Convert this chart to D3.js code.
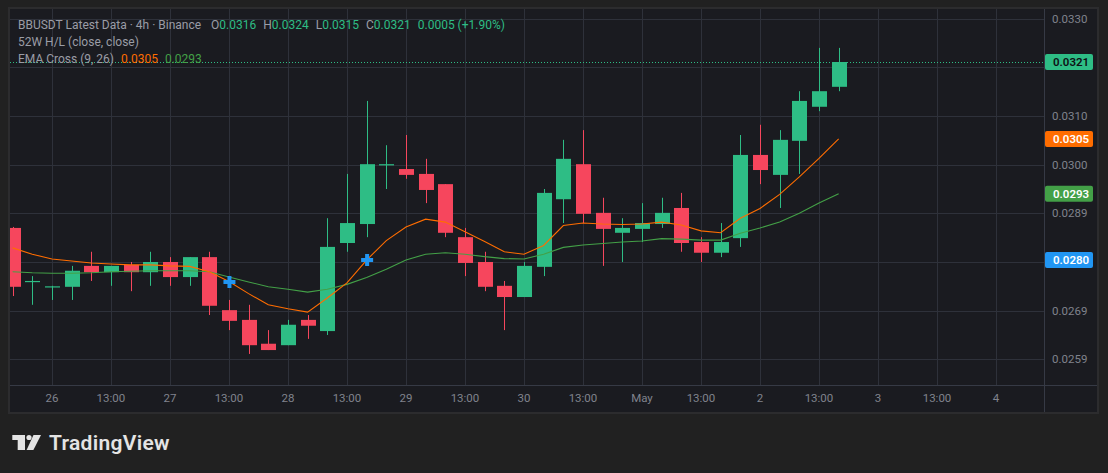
<!DOCTYPE html>
<html>
<head>
<meta charset="utf-8">
<script src="https://cdn.jsdelivr.net/npm/d3@7"></script>
<style>
  body { margin: 0; background: #212121; }
  svg { display: block; }
</style>
</head>
<body>
<div id="chart"></div>
<script>
// BBUSDT 4h candles (43 bars, first one clipped at the left edge)
const opens = [0.02870,0.02760,0.02749,0.02749,0.02792,0.02779,0.02794,0.02779,0.02800,0.02769,
  0.02810,0.02701,0.02681,0.02632,0.02629,0.02681,0.02658,0.02839,0.02878,0.03000,
  0.02991,0.02981,0.02960,0.02851,0.02800,0.02751,0.02728,0.02790,0.02929,0.03001,
  0.02901,0.02860,0.02868,0.02878,0.02911,0.02841,0.02819,0.02849,0.03020,0.02979,
  0.03049,0.03119,0.03160];
const highs = [0.02872,0.02771,0.02751,0.02792,0.02821,0.02792,0.02800,0.02821,0.02810,0.02810,
  0.02821,0.02722,0.02712,0.02660,0.02681,0.02691,0.02890,0.02981,0.03131,0.03040,
  0.03061,0.03012,0.02960,0.02870,0.02821,0.02761,0.02800,0.02950,0.03051,0.03071,
  0.02932,0.02890,0.02921,0.02932,0.02942,0.02851,0.02880,0.03061,0.03082,0.03071,
  0.03151,0.03240,0.03240];
const lows = [0.02730,0.02712,0.02722,0.02722,0.02761,0.02751,0.02740,0.02751,0.02751,0.02751,
  0.02691,0.02660,0.02611,0.02619,0.02629,0.02642,0.02650,0.02821,0.02851,0.02950,
  0.02971,0.02921,0.02851,0.02771,0.02740,0.02660,0.02728,0.02771,0.02880,0.02880,
  0.02792,0.02800,0.02841,0.02870,0.02821,0.02800,0.02810,0.02831,0.02960,0.02911,
  0.02981,0.03110,0.03151];
const closes = [0.02749,0.02761,0.02750,0.02782,0.02779,0.02792,0.02779,0.02800,0.02769,0.02810,
  0.02710,0.02679,0.02629,0.02619,0.02671,0.02669,0.02831,0.02880,0.03001,0.03001,
  0.02979,0.02948,0.02860,0.02798,0.02749,0.02728,0.02792,0.02942,0.03012,0.02899,
  0.02868,0.02870,0.02880,0.02901,0.02839,0.02819,0.02841,0.03020,0.02989,0.03051,
  0.03131,0.03151,0.03211];

// EMA Cross (9, 26) lines as drawn
const emaFast = [0.02829,0.02816,0.02806,0.02802,0.02798,0.02796,0.02794,0.02794,0.02792,0.02791,
  0.02780,0.02760,0.02735,0.02712,0.02704,0.02697,0.02726,0.02757,0.02804,0.02844,
  0.02872,0.02888,0.02882,0.02862,0.02842,0.02821,0.02816,0.02834,0.02875,0.02880,
  0.02878,0.02877,0.02878,0.02882,0.02876,0.02864,0.02860,0.02890,0.02910,0.02939,
  0.02975,0.03013,0.03053];
const emaSlow = [0.02780,0.02778,0.02777,0.02777,0.02778,0.02780,0.02781,0.02782,0.02782,0.02782,
  0.02780,0.02769,0.02759,0.02749,0.02744,0.02738,0.02744,0.02754,0.02768,0.02785,
  0.02804,0.02816,0.02819,0.02816,0.02811,0.02807,0.02806,0.02816,0.02830,0.02835,
  0.02838,0.02841,0.02843,0.02848,0.02847,0.02845,0.02845,0.02859,0.02870,0.02882,
  0.02900,0.02921,0.02940];

// cross markers (bar index, price)
const crossIdx = [11, 18];
const crossPrice = [0.02759, 0.02804];

// 52W H/L level shown in blue on the price scale
const hlValue = 0.02804;
const hlLabel = "0.0280";

// axes
const priceTicks = [0.0330, 0.0320, 0.0310, 0.0300, 0.0290, 0.0280, 0.0270, 0.0260];
const priceTickLabels = ["0.0330", "", "0.0310", "0.0300", "0.0289", "", "0.0269", "0.0259"];
const timeTickIdx = [2, 5, 8, 11, 14, 17, 20, 23, 26, 29, 32, 35, 38, 41, 44, 47, 50];
const timeLabels = ["26","13:00","27","13:00","28","13:00","29","13:00","30","13:00","May","13:00","2","13:00","3","13:00","4"];

// legend texts
const legendTitle = "BBUSDT Latest Data · 4h · Binance";
const legendChange = "0.0005 (+1.90%)";
const legendHL = "52W H/L (close, close)";
const legendEma = "EMA Cross (9, 26)";

const W = 1108, H = 473;
const plot = { left: 10, top: 9, right: 1044, bottom: 385 };
const pane = { left: 10, top: 9, right: 1097, bottom: 412 };

const up = "#2ebd85", down = "#f6465d";
const orange = "#ff6d00", emaGreen = "#43a047", blue = "#2196f3";
const gridColor = "#2e313a", axisText = "#80838d", legendGrey = "#9a9da6";
const font = "Roboto, 'Noto Sans', sans-serif";

const svg = d3.select("#chart").append("svg")
  .attr("width", W).attr("height", H);

svg.append("rect").attr("width", W).attr("height", H).attr("fill", "#212121");

svg.append("rect")
  .attr("x", pane.left - 1).attr("y", pane.top - 1)
  .attr("width", pane.right - pane.left + 2).attr("height", pane.bottom - pane.top + 2)
  .attr("fill", "#1a1b20")
  .attr("stroke", "#2c2c2e").attr("stroke-width", 2);

const x = d3.scaleLinear().domain([0, 50]).range([12.6, 996]);
const y = d3.scaleLinear().domain([0.0260, 0.0330]).range([359.3, 18.7]);

// grid
svg.append("g").selectAll("line").data(priceTicks).enter().append("line")
  .attr("x1", plot.left).attr("x2", plot.right)
  .attr("y1", d => Math.round(y(d)) + 0.5).attr("y2", d => Math.round(y(d)) + 0.5)
  .attr("stroke", gridColor);

svg.append("g").selectAll("line").data(timeTickIdx).enter().append("line")
  .attr("x1", d => Math.round(x(d)) + 0.5).attr("x2", d => Math.round(x(d)) + 0.5)
  .attr("y1", plot.top).attr("y2", plot.bottom)
  .attr("stroke", gridColor);

// separators for the price and time scales
svg.append("line")
  .attr("x1", plot.right + 0.5).attr("x2", plot.right + 0.5)
  .attr("y1", pane.top).attr("y2", pane.bottom)
  .attr("stroke", "#363a45");
svg.append("line")
  .attr("x1", pane.left).attr("x2", pane.right)
  .attr("y1", plot.bottom + 0.5).attr("y2", plot.bottom + 0.5)
  .attr("stroke", "#363a45");

svg.append("clipPath").attr("id", "plotclip")
  .append("rect")
  .attr("x", plot.left).attr("y", plot.top)
  .attr("width", plot.right - plot.left).attr("height", plot.bottom - plot.top);

const g = svg.append("g").attr("clip-path", "url(#plotclip)");

// last close dotted line
const lastClose = closes[closes.length - 1];
g.append("line")
  .attr("x1", plot.left).attr("x2", plot.right)
  .attr("y1", Math.round(y(lastClose)) + 0.5).attr("y2", Math.round(y(lastClose)) + 0.5)
  .attr("stroke", up).attr("stroke-dasharray", "1,2");

const bars = opens.map((o, i) => ({ i, o, h: highs[i], l: lows[i], c: closes[i] }));
const bodyW = 15;

const candle = g.selectAll(".candle").data(bars).enter().append("g")
  .attr("class", "candle");

candle.append("line")
  .attr("x1", d => Math.round(x(d.i)) + 0.5).attr("x2", d => Math.round(x(d.i)) + 0.5)
  .attr("y1", d => y(d.h)).attr("y2", d => y(d.l))
  .attr("stroke", d => d.c >= d.o ? up : down);

candle.append("rect")
  .attr("x", d => Math.round(x(d.i)) - 7)
  .attr("y", d => y(Math.max(d.o, d.c)))
  .attr("width", bodyW)
  .attr("height", d => Math.max(1.2, Math.abs(y(d.o) - y(d.c))))
  .attr("fill", d => d.c >= d.o ? up : down);

// EMA lines
const line = d3.line().x((d, i) => x(i)).y(d => y(d));
g.append("path").datum(emaSlow)
  .attr("d", line).attr("fill", "none").attr("stroke", emaGreen).attr("stroke-width", 1.1);
g.append("path").datum(emaFast)
  .attr("d", line).attr("fill", "none").attr("stroke", orange).attr("stroke-width", 1.1);

// cross markers
g.selectAll(".cross").data(crossIdx).enter().append("path")
  .attr("class", "cross")
  .attr("transform", (d, k) => `translate(${x(d) + 0.5},${y(crossPrice[k])})`)
  .attr("d", "M-6,-2H-2V-6H2V-2H6V2H2V6H-2V2H-6Z")
  .attr("fill", blue);

// price scale labels
svg.append("g").selectAll("text").data(priceTicks).enter().append("text")
  .attr("x", 1052).attr("y", d => y(d))
  .attr("dy", "0.35em")
  .attr("fill", axisText)
  .style("font-family", font).style("font-size", "11.5px")
  .text((d, k) => priceTickLabels[k]);

// price badges
const badges = [
  { v: lastClose, text: d3.format(".4f")(lastClose), bg: up, fg: "#0e1015" },
  { v: emaFast[emaFast.length - 1], text: "0.0305", bg: orange, fg: "#ffffff" },
  { v: emaSlow[emaSlow.length - 1], text: "0.0293", bg: emaGreen, fg: "#ffffff" },
  { v: hlValue, text: hlLabel, bg: blue, fg: "#ffffff" }
];
const badge = svg.append("g").selectAll("g").data(badges).enter().append("g")
  .attr("transform", d => `translate(${plot.right + 1},${y(d.v)})`);
badge.append("rect")
  .attr("x", 0).attr("y", -8).attr("width", 48).attr("height", 16).attr("rx", 2)
  .attr("fill", d => d.bg);
badge.append("text")
  .attr("x", 8).attr("y", 0).attr("dy", "0.36em")
  .attr("fill", d => d.fg)
  .style("font-family", font).style("font-size", "11.5px").style("font-weight", "600")
  .text(d => d.text);

// time scale labels
svg.append("g").selectAll("text").data(timeTickIdx).enter().append("text")
  .attr("x", d => x(d)).attr("y", 398)
  .attr("dy", "0.35em")
  .attr("text-anchor", "middle")
  .attr("fill", axisText)
  .style("font-family", font).style("font-size", "11.5px")
  .text((d, k) => timeLabels[k]);

// legend
const fmt = d3.format(".4f");
const last = bars[bars.length - 1];
const leg1 = svg.append("text").attr("x", 18).attr("y", 29)
  .style("font-family", font).style("font-size", "12px");
leg1.append("tspan").attr("fill", legendGrey).text(legendTitle);
[["O", last.o], ["H", last.h], ["L", last.l], ["C", last.c]].forEach((p, k) => {
  leg1.append("tspan").attr("dx", k === 0 ? 10 : 7).attr("fill", legendGrey).text(p[0]);
  leg1.append("tspan").attr("fill", up).text(fmt(p[1]));
});
leg1.append("tspan").attr("dx", 7).attr("fill", up).text(legendChange);

svg.append("text").attr("x", 18).attr("y", 46)
  .style("font-family", font).style("font-size", "12px")
  .attr("fill", legendGrey).text(legendHL);

const leg3 = svg.append("text").attr("x", 18).attr("y", 63)
  .style("font-family", font).style("font-size", "12px");
leg3.append("tspan").attr("fill", legendGrey).text(legendEma);
leg3.append("tspan").attr("dx", 7).attr("fill", orange).text("0.0305");
leg3.append("tspan").attr("dx", 7).attr("fill", emaGreen).text("0.0293");

// TradingView logo
const logo = svg.append("g").attr("fill", "#e4e4e4");
logo.append("path").attr("d", "M12.3,435H25V450H17.7V440H12.3Z");
logo.append("circle").attr("cx", 29).attr("cy", 437.5).attr("r", 2.6);
logo.append("path").attr("d", "M33.5,435H41L33.4,450H26.6Z");
logo.append("text").attr("x", 49).attr("y", 450)
  .style("font-family", font).style("font-size", "21px").style("font-weight", "600")
  .style("letter-spacing", "0.3px")
  .text("TradingView");
</script>
</body>
</html>
